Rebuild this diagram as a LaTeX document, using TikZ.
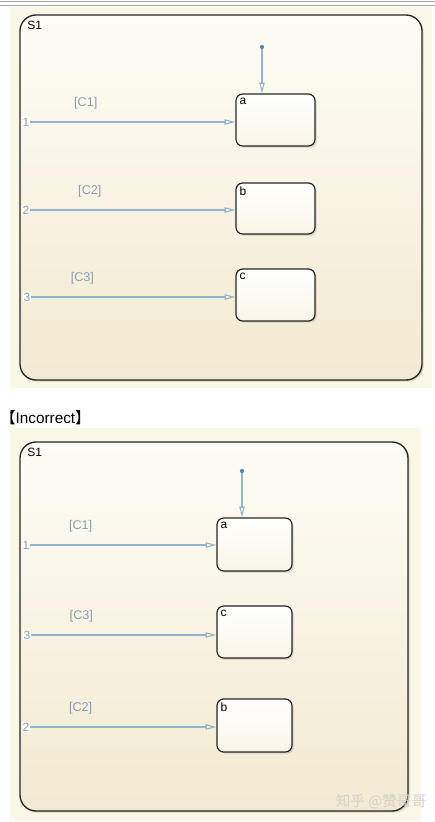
\documentclass[tikz,border=0pt]{standalone}
\usepackage{fontspec}
\setmainfont{Liberation Sans}
\newfontfamily\cjkfont{Noto Sans CJK SC}
\usetikzlibrary{positioning,arrows.meta,shadows}
\definecolor{panel}{HTML}{FBF7E7}
\definecolor{chtop}{HTML}{FEFCF6}
\definecolor{chbot}{HTML}{F2EAD0}
\definecolor{trans}{HTML}{93B3CE}
\definecolor{guardc}{HTML}{8A9FB4}
\definecolor{dotc}{HTML}{5A86BE}
\tikzset{
    chart/.style={draw=black!85,line width=1pt,rounded corners=12pt,top color=chtop,bottom color=chbot,
        drop shadow={shadow xshift=1.2pt,shadow yshift=-1.2pt,opacity=.3}},
    statelbl/.style={anchor=north west,inner sep=3pt,font=\fontsize{9}{10}\selectfont},
    state/.style={draw=black!85,line width=0.9pt,rounded corners=5pt,top color=white,bottom color=chtop!60!chbot,
        drop shadow={shadow xshift=1.2pt,shadow yshift=-1.2pt,opacity=.3},label={[statelbl]north west:#1}},
    trans/.style={draw=trans,line width=0.8pt,-{Triangle[open,length=8pt,width=4pt]}},
    guard/.style={text=guardc,inner sep=0pt,font=\fontsize{9.5}{10}\selectfont},
    num/.style={text=guardc,fill=chtop,inner sep=0.6pt,font=\fontsize{9}{9}\selectfont},
    dflt/.style={circle,fill=dotc,inner sep=0pt,minimum size=3.2pt}
}
\begin{document}
\begin{tikzpicture}[x=0.75pt,y=-0.75pt]
    \useasboundingbox (0,0) rectangle (435,822);
    \draw[gray!70,line width=0.6pt] (0,1.5) -- (435,1.5);
    \draw[gray!70,line width=0.6pt] (0,5.5) -- (435,5.5);

    \fill[panel] (10,7) rectangle (432,388);
    \path[chart] (20,15) rectangle (422,380);
    \node[statelbl,inner sep=1.5pt] (s1) at (25,19) {S1};
    \node[state=a,minimum width=59.25pt,minimum height=39pt] (a) at (275.5,120) {};
    \node[state=b,minimum width=59.25pt,minimum height=38.25pt] (b) at (275.5,208.5) {};
    \node[state=c,minimum width=59.25pt,minimum height=39pt] (c) at (275.5,295) {};
    \node[dflt] (d) at (262,47) {};
    \draw[trans] (d) -- (d |- a.north);
    \node[num] (t1) at (26,122) {1};
    \node[num] (t2) at (26,210) {2};
    \node[num] (t3) at (27,297) {3};
    \draw[trans] (t1) -- (t1 -| a.west) node[guard,pos=.27,above=9pt] {[C1]};
    \draw[trans] (t2) -- (t2 -| b.west) node[guard,pos=.29,above=9pt] {[C2]};
    \draw[trans] (t3) -- (t3 -| c.west) node[guard,pos=.25,above=9pt] {[C3]};

    \node[anchor=west,inner sep=0pt,font=\fontsize{11.5}{12}\selectfont] (inc) at (0,418)
        {{\cjkfont 【}Incorrect{\cjkfont 】}};

    \fill[panel] (10,428) rectangle (421,821);
    \path[chart] (20,442) rectangle (408,811);
    \node[statelbl,inner sep=1.5pt] (s2) at (25,446) {S1};
    \node[state=a,minimum width=56.25pt,minimum height=39.75pt] (a2) at (254.5,544.5) {};
    \node[state=c,minimum width=56.25pt,minimum height=39pt] (c2) at (254.5,632) {};
    \node[state=b,minimum width=56.25pt,minimum height=39.75pt] (b2) at (254.5,725.5) {};
    \node[dflt] (d2) at (242,471) {};
    \draw[trans] (d2) -- (d2 |- a2.north);
    \node[num] (u1) at (26,545) {1};
    \node[num] (u3) at (27,635) {3};
    \node[num] (u2) at (26,727) {2};
    \draw[trans] (u1) -- (u1 -| a2.west) node[guard,pos=.27,above=9pt] {[C1]};
    \draw[trans] (u3) -- (u3 -| c2.west) node[guard,pos=.27,above=9pt] {[C3]};
    \draw[trans] (u2) -- (u2 -| b2.west) node[guard,pos=.27,above=9pt] {[C2]};

    \node[text=gray!35,inner sep=0pt,font=\cjkfont\fontsize{11}{12}\selectfont] (wm) at (381,802) {知乎 @赞哥哥};
\end{tikzpicture}
\end{document}
